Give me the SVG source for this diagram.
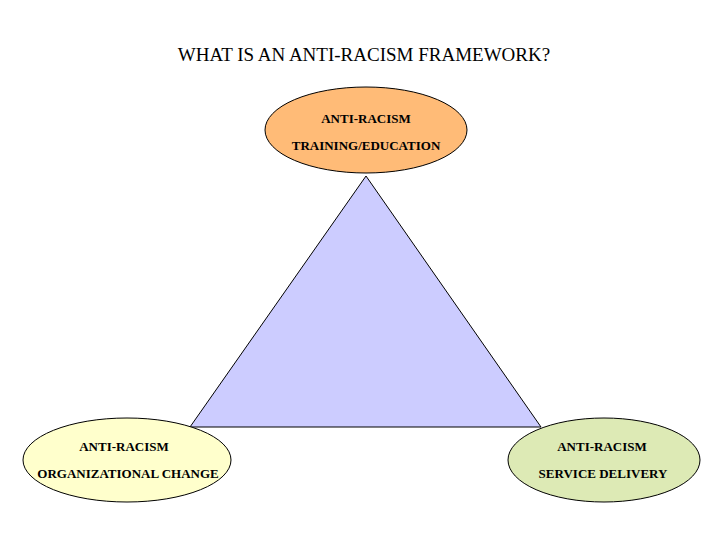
<svg xmlns="http://www.w3.org/2000/svg" width="728" height="546" viewBox="0 0 728 546">
<style>
.n{stroke:#000;stroke-width:1}
.t{font-family:"Liberation Serif",serif;font-size:13px;font-weight:bold;text-anchor:middle}
</style>
<rect width="728" height="546" fill="#fff"/>
<text x="364" y="61" style="font-family:'Liberation Serif',serif;font-size:19px;text-anchor:middle">WHAT IS AN ANTI-RACISM FRAMEWORK?</text>
<g id="connectors">
<polygon points="366,176 190,427 541,427" fill="#CCCCFF" stroke="#000" stroke-width="1"/>
</g>
<g id="top">
<ellipse class="n" cx="366" cy="130" rx="101" ry="43" fill="#FFBB77"/>
<text class="t" x="366" y="123">ANTI-RACISM</text>
<text class="t" x="366" y="150">TRAINING/EDUCATION</text>
</g>
<g id="left">
<ellipse class="n" cx="127" cy="460" rx="104" ry="42" fill="#FFFFCC"/>
<text class="t" x="124" y="451">ANTI-RACISM</text>
<text class="t" x="128" y="478">ORGANIZATIONAL CHANGE</text>
</g>
<g id="right">
<ellipse class="n" cx="604" cy="460" rx="96" ry="42" fill="#DDEAB5"/>
<text class="t" x="602" y="451">ANTI-RACISM</text>
<text class="t" x="603" y="478">SERVICE DELIVERY</text>
</g>
</svg>
